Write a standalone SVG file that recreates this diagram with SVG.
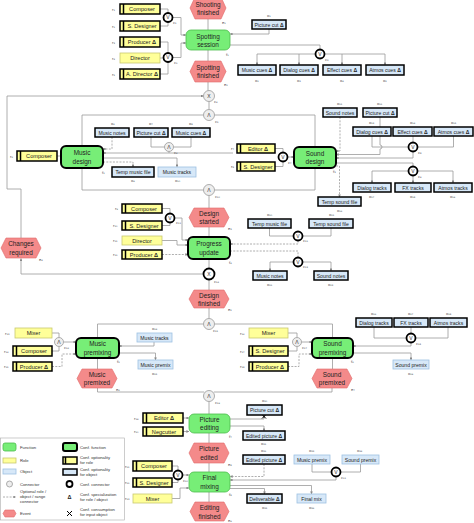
<svg xmlns="http://www.w3.org/2000/svg" width="474" height="523" viewBox="0 0 474 523">
<style>
.fn{fill:#77ee77;stroke:#4cbb4c;stroke-width:0.8}
.cfn{fill:#77ee77;stroke:#000;stroke-width:2}
.ev{fill:#f48a8a;stroke:#e06868;stroke-width:0.6}
.rl{fill:#ffff99;stroke:#c8c870;stroke-width:0.8}
.crl{fill:#ffff99;stroke:#000;stroke-width:1.5}
.bar{stroke:#000;stroke-width:1.5}
.ob{fill:#d7e8f8;stroke:#9dc0e2;stroke-width:0.8}
.cob{fill:#d7e8f8;stroke:#000;stroke-width:1.5}
.cn{fill:#eeeeee;stroke:#999;stroke-width:0.8}
.ccn{fill:#ffffff;stroke:#000;stroke-width:1.8}
.ln{fill:none;stroke:#9a9a9a;stroke-width:0.8}
.dl{fill:none;stroke:#9a9a9a;stroke-width:0.8;stroke-dasharray:2 1.3}
text{font-family:"Liberation Sans",Arial,sans-serif;fill:#222}
.t{font-size:6.4px;text-anchor:middle}
.tr{font-size:5.6px;text-anchor:middle}
.to{font-size:5.1px;text-anchor:middle}
.cs{font-size:5px;text-anchor:middle;fill:#333}
.lb{font-family:"DejaVu Sans",sans-serif;font-size:3.6px;fill:#444}
.le{font-size:4.2px;fill:#333}
.d{font-weight:bold}
</style>
<defs>
<marker id="ar" viewBox="0 0 6 6" refX="5.5" refY="3" markerWidth="3.5" markerHeight="3.5" orient="auto"><path d="M0,0 L6,3 L0,6 z" fill="#888"/></marker>
</defs>

<g id="connectors">
<!-- top -->
<path class="ln" d="M208,19 V30"/>
<path class="ln" d="M208,50 V61"/>
<path class="ln" d="M208,82 V90.5"/>
<path class="ln" d="M160,9 H168 V13"/>
<path class="ln" d="M160,26 H168 V22"/>
<path class="ln" d="M172.5,17.5 H181 V35 H186" marker-end="url(#ar)"/>
<path class="ln" d="M160,42 H168 V53"/>
<path class="ln" d="M160,58 H163.5"/>
<path class="ln" d="M160,74 H168 V62"/>
<path class="ln" d="M172.5,57.5 H181 V43 H186" marker-end="url(#ar)"/>
<path class="ln" d="M269,29 V34 H230" marker-end="url(#ar)"/>
<path class="ln" d="M230,45 H320 V49.5"/>
<path class="ln" d="M315.5,54 H257 V65" marker-end="url(#ar)"/>
<path class="ln" d="M299,54 V65" marker-end="url(#ar)"/>
<path class="ln" d="M324.5,54 H385 V65" marker-end="url(#ar)"/>
<path class="ln" d="M342,54 V65" marker-end="url(#ar)"/>
<!-- loop -->
<path class="ln" d="M21,238 V189 H7 V96 H203.5" marker-end="url(#ar)"/>
<path class="ln" d="M203.5,274 H21 V258.5" marker-end="url(#ar)"/>
<path class="ln" d="M209,101.5 V109.5"/>
<path class="ln" d="M203.5,115 H82 V146"/>
<path class="ln" d="M214.5,115 H315 V147"/>
<path class="ln" d="M82,168 V190 H203.5"/>
<path class="ln" d="M315,168 V190 H214.5"/>
<path class="ln" d="M209,195.5 V208"/>
<!-- music design -->
<path class="ln" d="M57,156 H61"/>
<path class="dl" d="M112,137 V149 H103" marker-end="url(#ar)"/>
<path class="ln" d="M151,137 V147 H164.5"/>
<path class="ln" d="M191,137 V147 H173.5"/>
<path class="ln" d="M169,151.5 V153"/>
<path class="ln" d="M233,153 H103" marker-end="url(#ar)"/>
<path class="ln" d="M103,158 H177 V167" marker-end="url(#ar)"/>
<path class="dl" d="M103,162 H133 V167" marker-end="url(#ar)"/>
<!-- sound design -->
<path class="ln" d="M275,148.5 H283 V152.5"/>
<path class="ln" d="M275,166.5 H283 V161.5"/>
<path class="ln" d="M287.5,157 H294" marker-end="url(#ar)"/>
<path class="dl" d="M340,117 V151 H336" marker-end="url(#ar)"/>
<path class="ln" d="M380,117 V145 A2,2 0 0 1 380,149 V154.5 H336" marker-end="url(#ar)"/>
<path class="ln" d="M372,136 V147 H408.5"/>
<path class="ln" d="M413,136 V142.5"/>
<path class="ln" d="M453.5,136 V147 H417.5"/>
<path class="ln" d="M413,151.5 V158 H336" marker-end="url(#ar)"/>
<path class="ln" d="M336,163 H413 V166.5"/>
<path class="ln" d="M408.5,171 H372 V183" marker-end="url(#ar)"/>
<path class="ln" d="M413,175.5 V183" marker-end="url(#ar)"/>
<path class="ln" d="M417.5,171 H453 V183" marker-end="url(#ar)"/>
<path class="dl" d="M336,166 H339.5 V197" marker-end="url(#ar)"/>
<!-- progress update -->
<path class="ln" d="M209,227 V237"/>
<path class="ln" d="M162,208.5 H170 V213.5"/>
<path class="ln" d="M162,225.5 H170 V222.5"/>
<path class="ln" d="M174.5,218 H182 V240 H188" marker-end="url(#ar)"/>
<path class="ln" d="M162,240.5 H177 V245 H188" marker-end="url(#ar)"/>
<path class="dl" d="M162,254.5 H188" marker-end="url(#ar)"/>
<path class="ln" d="M269.5,228 V236 H293.5"/>
<path class="ln" d="M331,228 V236 H302.5"/>
<path class="dl" d="M298,240.5 V244 H230" marker-end="url(#ar)"/>
<path class="dl" d="M230,251 H298 V257.5"/>
<path class="ln" d="M293.5,262 H270 V271" marker-end="url(#ar)"/>
<path class="ln" d="M302.5,262 H331 V271" marker-end="url(#ar)"/>
<path class="ln" d="M209,259 V268.5"/>
<path class="ln" d="M209,279.5 V290"/>
<!-- premixing -->
<path class="ln" d="M209,308 V318.5"/>
<path class="ln" d="M203.5,324 H97.5 V338"/>
<path class="ln" d="M214.5,324 H332.5 V338"/>
<path class="ln" d="M52,333 H59 V337.5"/>
<path class="ln" d="M52,351 H59 V346.5"/>
<path class="ln" d="M63.5,342 H76" marker-end="url(#ar)"/>
<path class="dl" d="M52,366.5 H62 V354 H76" marker-end="url(#ar)"/>
<path class="ln" d="M154,342 V346 H119" marker-end="url(#ar)"/>
<path class="ln" d="M119,353 H155.5 V360" marker-end="url(#ar)"/>
<path class="ln" d="M97.5,358 V369"/>
<path class="ln" d="M288,333 H297 V337.5"/>
<path class="ln" d="M288,351 H297 V346.5"/>
<path class="ln" d="M301.5,342 H312" marker-end="url(#ar)"/>
<path class="dl" d="M288,366.5 H299 V354 H312" marker-end="url(#ar)"/>
<path class="ln" d="M374,327 V338 H406.5"/>
<path class="ln" d="M411,327 V333.5"/>
<path class="ln" d="M448,327 V338 H415.5"/>
<path class="ln" d="M411,342.5 V346 H353" marker-end="url(#ar)"/>
<path class="ln" d="M353,353 H411 V360" marker-end="url(#ar)"/>
<path class="ln" d="M332.5,358 V369"/>
<path class="ln" d="M97.5,388 V392 H204.2"/>
<path class="ln" d="M332,388 V392 H213.8"/>
<!-- editing -->
<path class="ln" d="M209,401.5 V414"/>
<path class="ln" d="M183,418 H189" marker-end="url(#ar)"/>
<path class="ln" d="M183,431.5 H189" marker-end="url(#ar)"/>
<path class="ln" d="M230,419 H264 V415" marker-end="url(#ar)"/>
<path class="ln" d="M230,426 H264 V431" marker-end="url(#ar)"/>
<path class="ln" d="M209,433 V443"/>
<path class="ln" d="M209,463 V472"/>
<path class="ln" d="M172,466 H178 V471"/>
<path class="ln" d="M172,482.5 H178 V479"/>
<path class="ln" d="M182.5,475 H189" marker-end="url(#ar)"/>
<path class="ln" d="M172,498.5 H180 V488 H189" marker-end="url(#ar)"/>
<path class="dl" d="M264,464 V476.5 H230" marker-end="url(#ar)"/>
<path class="ln" d="M312,464 V472 H331.5"/>
<path class="ln" d="M360.5,464 V472 H340.5"/>
<path class="ln" d="M336,476.5 V480 H230" marker-end="url(#ar)"/>
<path class="ln" d="M230,485.5 H311.5 V494" marker-end="url(#ar)"/>
<path class="ln" d="M230,488.5 H264.5 V494" marker-end="url(#ar)"/>
<path class="ln" d="M209,492 V502"/>
<path d="M262,414.5 L266,418.5 M266,414.5 L262,418.5" stroke="#000" stroke-width="1"/>
</g>

<!-- top section -->
<g id="e1"><polygon class="ev" points="195,-3 221,-3 226,8 221,19 195,19 190,8"/><text class="t" x="208" y="7">Shooting</text><text class="t" x="208" y="15">finished</text><text class="lb" x="222" y="24">e₁</text></g>
<g id="f1"><rect class="fn" x="186" y="30" width="44" height="20" rx="5"/><text class="t" x="208" y="38.5">Spotting</text><text class="t" x="208" y="46.5">session</text><text class="lb" x="226" y="56">f₁</text></g>
<g id="e2"><polygon class="ev" points="195,61 221,61 226,71.5 221,82 195,82 190,71.5"/><text class="t" x="208" y="69.5">Spotting</text><text class="t" x="208" y="78">finished</text><text class="lb" x="224" y="86">e₂</text></g>
<g id="r1"><rect class="crl" x="120" y="4" width="40" height="10"/><line class="bar" x1="123.5" y1="4" x2="123.5" y2="14"/><text class="tr" x="142" y="11">Composer</text><text class="lb" x="112" y="11">r₁</text></g>
<g id="r2"><rect class="crl" x="120" y="21" width="40" height="10"/><line class="bar" x1="123.5" y1="21" x2="123.5" y2="31"/><text class="tr" x="142" y="28">S. Designer</text><text class="lb" x="112" y="28">r₂</text></g>
<g id="r3"><rect class="crl" x="120" y="37" width="40" height="10"/><line class="bar" x1="123.5" y1="37" x2="123.5" y2="47"/><text class="tr" x="142" y="44">Producer <tspan class="d">Δ</tspan></text><text class="lb" x="112" y="44">r₃</text></g>
<g id="r4"><rect class="rl" x="120" y="53" width="40" height="10"/><text class="tr" x="140" y="60">Director</text><text class="lb" x="112" y="60">r₄</text></g>
<g id="r5"><rect class="crl" x="120" y="69" width="40" height="10"/><line class="bar" x1="123.5" y1="69" x2="123.5" y2="79"/><text class="tr" x="142" y="76">A. Director <tspan class="d">Δ</tspan></text><text class="lb" x="112" y="76">r₅</text></g>
<g id="c1"><circle class="ccn" cx="168" cy="17.5" r="4.5"/><text class="cs" x="168" y="19.3">V</text><text class="lb" x="173" y="24">c₁</text></g>
<g id="c2"><circle class="ccn" cx="168" cy="57.5" r="4.5"/><text class="cs" x="168" y="59.3">V</text><text class="lb" x="174" y="64">c₂</text></g>
<g id="o1"><rect class="cob" x="252" y="20" width="34" height="9"/><text class="to" x="269" y="26.5">Picture cut <tspan class="d">Δ</tspan></text><text class="lb" x="267" y="17">o₁</text></g>
<g id="c3"><circle class="ccn" cx="320" cy="54" r="4.5"/><text class="cs" x="320" y="55.8">V</text><text class="lb" x="325" y="61">c₃</text></g>
<g id="o2"><rect class="cob" x="238" y="65" width="38" height="10"/><text class="to" x="257" y="72">Music cues <tspan class="d">Δ</tspan></text><text class="lb" x="255" y="82">o₂</text></g>
<g id="o3"><rect class="cob" x="280" y="65" width="38" height="10"/><text class="to" x="299" y="72">Dialog cues <tspan class="d">Δ</tspan></text><text class="lb" x="297" y="82">o₃</text></g>
<g id="o4"><rect class="cob" x="323" y="65" width="38" height="10"/><text class="to" x="342" y="72">Effect cues <tspan class="d">Δ</tspan></text><text class="lb" x="340" y="82">o₄</text></g>
<g id="o5"><rect class="cob" x="366" y="65" width="38" height="10"/><text class="to" x="385" y="72">Atmos cues <tspan class="d">Δ</tspan></text><text class="lb" x="383" y="82">o₅</text></g>
<g id="c4"><circle class="cn" cx="209" cy="96" r="5.5"/><text class="cs" x="209" y="97.8">X</text><text class="lb" x="214" y="103">c₄</text></g>
<g id="c5"><circle class="cn" cx="209" cy="115" r="5.5"/><text class="cs" x="209" y="117">Λ</text><text class="lb" x="215" y="123">c₅</text></g>

<!-- music design -->
<g id="f2"><rect class="cfn" x="61" y="146" width="42" height="22" rx="5"/><text class="t" x="82" y="155">Music</text><text class="t" x="82" y="163.5">design</text><text class="lb" x="102" y="174">f₂</text></g>
<g id="r6"><rect class="crl" x="17" y="151" width="40" height="10"/><line class="bar" x1="20.5" y1="151" x2="20.5" y2="161"/><text class="tr" x="39" y="158">Composer</text><text class="lb" x="10" y="158">r₆</text></g>
<g id="o6"><rect class="cob" x="95" y="128" width="34" height="9"/><text class="to" x="112" y="134.5">Music notes</text><text class="lb" x="111" y="125">o₆</text></g>
<g id="o7"><rect class="cob" x="134" y="128" width="34" height="9"/><text class="to" x="151" y="134.5">Picture cut <tspan class="d">Δ</tspan></text><text class="lb" x="149" y="125">o₇</text></g>
<g id="o8"><rect class="cob" x="172" y="128" width="38" height="9"/><text class="to" x="191" y="134.5">Music cues <tspan class="d">Δ</tspan></text><text class="lb" x="189" y="125">o₈</text></g>
<g id="c6"><circle class="cn" cx="169" cy="147" r="4.5"/><text class="cs" x="169" y="149">Λ</text><text class="lb" x="174" y="154">c₆</text></g>
<g id="o9"><rect class="cob" x="112" y="167" width="42" height="10"/><text class="to" x="133" y="174">Temp music file</text><text class="lb" x="131" y="182">o₉</text></g>
<g id="o10"><rect class="ob" x="158" y="167" width="38" height="10"/><text class="to" x="177" y="174">Music tracks</text><text class="lb" x="175" y="182">o₁₀</text></g>
<g id="c10"><circle class="cn" cx="209" cy="190" r="5.5"/><text class="cs" x="209" y="192">Λ</text><text class="lb" x="215" y="198">c₁₀</text></g>

<!-- sound design -->
<g id="f3"><rect class="cfn" x="294" y="147" width="42" height="21" rx="5"/><text class="t" x="315" y="155.5">Sound</text><text class="t" x="315" y="164">design</text><text class="lb" x="333" y="173">f₃</text></g>
<g id="r7"><rect class="crl" x="237" y="144" width="38" height="9"/><line class="bar" x1="240.5" y1="144" x2="240.5" y2="153"/><text class="tr" x="258" y="150.5">Editor  <tspan class="d">Δ</tspan></text><text class="lb" x="231" y="150">r₇</text></g>
<g id="r8"><rect class="crl" x="237" y="162" width="38" height="9"/><line class="bar" x1="240.5" y1="162" x2="240.5" y2="171"/><text class="tr" x="258" y="168.5">S. Designer</text><text class="lb" x="231" y="168">r₈</text></g>
<g id="c7"><circle class="ccn" cx="283" cy="157" r="4.5"/><text class="cs" x="283" y="158.8">V</text><text class="lb" x="288" y="164">c₇</text></g>
<g id="o11"><rect class="cob" x="323" y="108" width="34" height="9"/><text class="to" x="340" y="114.5">Sound notes</text><text class="lb" x="337" y="105">o₁₁</text></g>
<g id="o12"><rect class="cob" x="363" y="108" width="34" height="9"/><text class="to" x="380" y="114.5">Picture cut <tspan class="d">Δ</tspan></text><text class="lb" x="377" y="105">o₁₂</text></g>
<g id="o13"><rect class="cob" x="353" y="127" width="38" height="9"/><text class="to" x="372" y="133.5">Dialog cues <tspan class="d">Δ</tspan></text><text class="lb" x="369" y="124">o₁₃</text></g>
<g id="o14"><rect class="cob" x="393" y="127" width="39" height="9"/><text class="to" x="412.5" y="133.5">Effect cues <tspan class="d">Δ</tspan></text><text class="lb" x="410" y="124">o₁₄</text></g>
<g id="o15"><rect class="cob" x="434" y="127" width="39" height="9"/><text class="to" x="453.5" y="133.5">Atmos cues <tspan class="d">Δ</tspan></text><text class="lb" x="451" y="124">o₁₅</text></g>
<g id="c8"><circle class="ccn" cx="413" cy="147" r="4.5"/><text class="cs" x="413" y="148.8">V</text><text class="lb" x="418" y="154">c₈</text></g>
<g id="c9"><circle class="ccn" cx="413" cy="171" r="4.5"/><text class="cs" x="413" y="172.8">V</text><text class="lb" x="418" y="178">c₉</text></g>
<g id="o16"><rect class="cob" x="318" y="197" width="43" height="9"/><text class="to" x="339.5" y="203.5">Temp sound file</text><text class="lb" x="337" y="212">o₁₆</text></g>
<g id="o17"><rect class="cob" x="353" y="183" width="38" height="9"/><text class="to" x="372" y="189.5">Dialog tracks</text><text class="lb" x="369" y="198">o₁₇</text></g>
<g id="o18"><rect class="cob" x="395" y="183" width="36" height="9"/><text class="to" x="413" y="189.5">FX tracks</text><text class="lb" x="410" y="198">o₁₈</text></g>
<g id="o19"><rect class="cob" x="434" y="183" width="38" height="9"/><text class="to" x="453" y="189.5">Atmos tracks</text><text class="lb" x="450" y="198">o₁₉</text></g>

<!-- progress update -->
<g id="e3"><polygon class="ev" points="194,208 224,208 229,217.5 224,227 194,227 189,217.5"/><text class="t" x="209" y="216">Design</text><text class="t" x="209" y="224">started</text><text class="lb" x="228" y="230">e₃</text></g>
<g id="f4"><rect class="cfn" x="188" y="237" width="42" height="22" rx="5"/><text class="t" x="209" y="246">Progress</text><text class="t" x="209" y="254.5">update</text><text class="lb" x="229" y="264">f₄</text></g>
<g id="e4"><polygon class="ev" points="6,238 36,238 41,248 36,258 6,258 1,248"/><text class="t" x="21" y="246">Changes</text><text class="t" x="21" y="254.5">required</text><text class="lb" x="39" y="261">e₄</text></g>
<g id="r9"><rect class="crl" x="122" y="204" width="40" height="9"/><line class="bar" x1="125.5" y1="204" x2="125.5" y2="213"/><text class="tr" x="144" y="210.5">Composer</text><text class="lb" x="115" y="210">r₉</text></g>
<g id="r10"><rect class="crl" x="122" y="221" width="40" height="9"/><line class="bar" x1="125.5" y1="221" x2="125.5" y2="230"/><text class="tr" x="144" y="227.5">S. Designer</text><text class="lb" x="113" y="227">r₁₀</text></g>
<g id="r11"><rect class="rl" x="122" y="236" width="40" height="9"/><text class="tr" x="142" y="242.5">Director</text><text class="lb" x="113" y="242">r₁₁</text></g>
<g id="r12"><rect class="crl" x="122" y="250" width="40" height="9"/><line class="bar" x1="125.5" y1="250" x2="125.5" y2="259"/><text class="tr" x="144" y="256.5">Producer <tspan class="d">Δ</tspan></text><text class="lb" x="113" y="256">r₁₂</text></g>
<g id="c11"><circle class="ccn" cx="170" cy="218" r="4.5"/><text class="cs" x="170" y="219.8">V</text><text class="lb" x="176" y="224">c₁₁</text></g>
<g id="o20"><rect class="cob" x="248" y="219" width="43" height="9"/><text class="to" x="269.5" y="225.5">Temp music file</text><text class="lb" x="267" y="216">o₂₀</text></g>
<g id="o21"><rect class="cob" x="309" y="219" width="44" height="9"/><text class="to" x="331" y="225.5">Temp sound file</text><text class="lb" x="329" y="216">o₂₁</text></g>
<g id="c12"><circle class="ccn" cx="298" cy="236" r="4.5"/><text class="cs" x="298" y="237.8">V</text><text class="lb" x="303" y="242">c₁₂</text></g>
<g id="c13"><circle class="ccn" cx="298" cy="262" r="4.5"/><text class="cs" x="298" y="263.8">V</text><text class="lb" x="303" y="268">c₁₃</text></g>
<g id="o22"><rect class="cob" x="253" y="271" width="34" height="9"/><text class="to" x="270" y="277.5">Music notes</text><text class="lb" x="267" y="286">o₂₂</text></g>
<g id="o23"><rect class="cob" x="314" y="271" width="34" height="9"/><text class="to" x="331" y="277.5">Sound notes</text><text class="lb" x="328" y="286">o₂₃</text></g>
<g id="c14"><circle class="ccn" cx="209" cy="274" r="5.5"/><text class="cs" x="209" y="275.8">X</text><text class="lb" x="214" y="283">c₁₄</text></g>
<g id="e5"><polygon class="ev" points="194,290 224,290 229,299 224,308 194,308 189,299"/><text class="t" x="209" y="297.5">Design</text><text class="t" x="209" y="305.5">finished</text><text class="lb" x="228" y="311">e₅</text></g>
<g id="c15"><circle class="cn" cx="209" cy="324" r="5.5"/><text class="cs" x="209" y="326">Λ</text><text class="lb" x="213" y="332">c₁₅</text></g>

<!-- music premixing -->
<g id="f5"><rect class="cfn" x="76" y="338" width="43" height="20" rx="5"/><text class="t" x="97.5" y="346">Music</text><text class="t" x="97.5" y="354.5">premixing</text><text class="lb" x="117" y="363">f₅</text></g>
<g id="r13"><rect class="rl" x="15" y="328" width="37" height="10"/><text class="tr" x="33.5" y="335">Mixer</text><text class="lb" x="5" y="335">r₁₃</text></g>
<g id="r14"><rect class="crl" x="13" y="346" width="39" height="10"/><line class="bar" x1="16.5" y1="346" x2="16.5" y2="356"/><text class="tr" x="34" y="353">Composer</text><text class="lb" x="4" y="353">r₁₄</text></g>
<g id="r15"><rect class="crl" x="13" y="362" width="39" height="9"/><line class="bar" x1="16.5" y1="362" x2="16.5" y2="371"/><text class="tr" x="34" y="368.5">Producer <tspan class="d">Δ</tspan></text><text class="lb" x="4" y="368">r₁₅</text></g>
<g id="c16"><circle class="cn" cx="59" cy="342" r="4.5"/><text class="cs" x="59" y="344">Λ</text><text class="lb" x="64" y="349">c₁₆</text></g>
<g id="o24"><rect class="ob" x="137" y="333" width="35" height="9"/><text class="to" x="154.5" y="339.5">Music tracks</text><text class="lb" x="152" y="330">o₂₄</text></g>
<g id="o25"><rect class="ob" x="138" y="360" width="35" height="9"/><text class="to" x="155.5" y="366.5">Music premix</text><text class="lb" x="152" y="375">o₂₅</text></g>
<g id="e6"><polygon class="ev" points="82,369 112,369 117,378.5 112,388 82,388 77,378.5"/><text class="t" x="97" y="377">Music</text><text class="t" x="97" y="385">premixed</text><text class="lb" x="116" y="391">e₆</text></g>

<!-- sound premixing -->
<g id="f6"><rect class="cfn" x="312" y="338" width="41" height="20" rx="5"/><text class="t" x="332.5" y="346">Sound</text><text class="t" x="332.5" y="354.5">premixing</text><text class="lb" x="351" y="363">f₆</text></g>
<g id="r16"><rect class="rl" x="249" y="328" width="39" height="10"/><text class="tr" x="268.5" y="335">Mixer</text><text class="lb" x="240" y="335">r₁₆</text></g>
<g id="r17"><rect class="crl" x="249" y="346" width="39" height="10"/><line class="bar" x1="252.5" y1="346" x2="252.5" y2="356"/><text class="tr" x="270" y="353">S. Designer</text><text class="lb" x="240" y="353">r₁₇</text></g>
<g id="r18"><rect class="crl" x="249" y="362" width="39" height="9"/><line class="bar" x1="252.5" y1="362" x2="252.5" y2="371"/><text class="tr" x="270" y="368.5">Producer <tspan class="d">Δ</tspan></text><text class="lb" x="240" y="368">r₁₈</text></g>
<g id="c17"><circle class="cn" cx="297" cy="342" r="4.5"/><text class="cs" x="297" y="344">Λ</text><text class="lb" x="302" y="349">c₁₇</text></g>
<g id="o26"><rect class="cob" x="356" y="318" width="36" height="9"/><text class="to" x="374" y="324.5">Dialog tracks</text><text class="lb" x="371" y="315">o₂₆</text></g>
<g id="o27"><rect class="cob" x="394" y="318" width="34" height="9"/><text class="to" x="411" y="324.5">FX tracks</text><text class="lb" x="408" y="315">o₂₇</text></g>
<g id="o28"><rect class="cob" x="430" y="318" width="37" height="9"/><text class="to" x="448.5" y="324.5">Atmos tracks</text><text class="lb" x="446" y="315">o₂₈</text></g>
<g id="c18"><circle class="ccn" cx="411" cy="338" r="4.5"/><text class="cs" x="411" y="339.8">V</text><text class="lb" x="416" y="345">c₁₈</text></g>
<g id="o29"><rect class="ob" x="393" y="360" width="36" height="9"/><text class="to" x="411" y="366.5">Sound premix</text><text class="lb" x="408" y="375">o₂₉</text></g>
<g id="e7"><polygon class="ev" points="317,369 347,369 352,378.5 347,388 317,388 312,378.5"/><text class="t" x="332" y="377">Sound</text><text class="t" x="332" y="385">premixed</text><text class="lb" x="351" y="391">e₇</text></g>
<g id="c19"><circle class="cn" cx="209" cy="396" r="5.5"/><text class="cs" x="209" y="398">Λ</text><text class="lb" x="215" y="404">c₁₉</text></g>

<!-- picture editing / final mixing -->
<g id="f7"><rect class="fn" x="189" y="414" width="41" height="19" rx="5"/><text class="t" x="209.5" y="422">Picture</text><text class="t" x="209.5" y="430">editing</text><text class="lb" x="229" y="438">f₇</text></g>
<g id="r19"><rect class="crl" x="143" y="413" width="40" height="10"/><line class="bar" x1="146.5" y1="413" x2="146.5" y2="423"/><text class="tr" x="164" y="420">Editor  <tspan class="d">Δ</tspan></text><text class="lb" x="134" y="420">r₁₉</text></g>
<g id="r20"><rect class="crl" x="143" y="427" width="40" height="9"/><line class="bar" x1="146.5" y1="427" x2="146.5" y2="436"/><text class="tr" x="164" y="433.5">Negcutter</text><text class="lb" x="134" y="433">r₂₀</text></g>
<g id="o30"><rect class="cob" x="247" y="405" width="35" height="10"/><text class="to" x="264.5" y="412">Picture cut <tspan class="d">Δ</tspan></text><text class="lb" x="262" y="402">o₃₀</text></g>
<g id="o31"><rect class="cob" x="243" y="431" width="42" height="9"/><text class="to" x="264" y="437.5">Edited picture <tspan class="d">Δ</tspan></text><text class="lb" x="261" y="445">o₃₁</text></g>
<g id="e8"><polygon class="ev" points="194,443 224,443 229,453 224,463 194,463 189,453"/><text class="t" x="209" y="451">Picture</text><text class="t" x="209" y="459.5">edited</text><text class="lb" x="228" y="466">e₈</text></g>
<g id="o32"><rect class="cob" x="243" y="455" width="42" height="9"/><text class="to" x="264" y="461.5">Edited picture <tspan class="d">Δ</tspan></text><text class="lb" x="261" y="452">o₃₂</text></g>
<g id="o33"><rect class="ob" x="294" y="455" width="36" height="9"/><text class="to" x="312" y="461.5">Music premix</text><text class="lb" x="309" y="452">o₃₃</text></g>
<g id="o34"><rect class="ob" x="342" y="455" width="37" height="9"/><text class="to" x="360.5" y="461.5">Sound premix</text><text class="lb" x="357" y="452">o₃₄</text></g>
<g id="c21"><circle class="ccn" cx="336" cy="472" r="4.5"/><text class="cs" x="336" y="473.8">V</text><text class="lb" x="341" y="479">c₂₁</text></g>
<g id="f8"><rect class="fn" x="189" y="472" width="41" height="20" rx="5"/><text class="t" x="209.5" y="480">Final</text><text class="t" x="209.5" y="488.5">mixing</text><text class="lb" x="229" y="496">f₈</text></g>
<g id="r21"><rect class="crl" x="133" y="461" width="39" height="10"/><line class="bar" x1="136.5" y1="461" x2="136.5" y2="471"/><text class="tr" x="154" y="468">Composer</text><text class="lb" x="125" y="468">r₂₁</text></g>
<g id="r22"><rect class="crl" x="133" y="478" width="39" height="9"/><line class="bar" x1="136.5" y1="478" x2="136.5" y2="487"/><text class="tr" x="154" y="484.5">S. Designer</text><text class="lb" x="125" y="484">r₂₂</text></g>
<g id="r23"><rect class="rl" x="133" y="494" width="39" height="9"/><text class="tr" x="152.5" y="500.5">Mixer</text><text class="lb" x="125" y="500">r₂₃</text></g>
<g id="c20"><circle class="ccn" cx="178" cy="475" r="4.5"/><text class="cs" x="178" y="476.8">V</text><text class="lb" x="183" y="482">c₂₀</text></g>
<g id="o35"><rect class="cob" x="247" y="494" width="35" height="9"/><text class="to" x="264.5" y="500.5">Deliverable <tspan class="d">Δ</tspan></text><text class="lb" x="262" y="509">o₃₅</text></g>
<g id="o36"><rect class="ob" x="297" y="494" width="29" height="9"/><text class="to" x="311.5" y="500.5">Final mix</text><text class="lb" x="309" y="509">o₃₆</text></g>
<g id="e9"><polygon class="ev" points="195,502 224,502 229,511.5 224,521 195,521 190,511.5"/><text class="t" x="209.5" y="510">Editing</text><text class="t" x="209.5" y="518.5">finished</text><text class="lb" x="228" y="522">e₉</text></g>

<!-- legend -->
<g id="legend">
<rect x="0.5" y="438" width="124" height="82" fill="#fff" stroke="#aaa" stroke-width="0.6"/>
<rect class="fn" x="3" y="443" width="13" height="8" rx="2"/><text class="le" x="20" y="448.5">Function</text>
<rect class="rl" x="3" y="458" width="13" height="5"/><text class="le" x="20" y="462">Role</text>
<rect class="ob" x="3" y="469" width="13" height="5"/><text class="le" x="20" y="473">Object</text>
<circle class="cn" cx="9.5" cy="484" r="3"/><text class="le" x="20" y="485.5">Connector</text>
<path class="dl" d="M3,497 H16" marker-end="url(#ar)"/><text class="le" x="20" y="493">Optional role /</text><text class="le" x="20" y="498">object / range</text><text class="le" x="20" y="503">connector</text>
<polygon class="ev" points="5,510 14,510 16,513.5 14,517 5,517 3,513.5"/><text class="le" x="20" y="515">Event</text>
<rect class="cfn" x="63" y="443" width="14" height="8" rx="2"/><text class="le" x="80" y="448.5">Conf. function</text>
<rect class="crl" x="63" y="457" width="14" height="7"/><line class="bar" x1="65.5" y1="457" x2="65.5" y2="464"/><text class="le" x="80" y="459">Conf. optionality</text><text class="le" x="80" y="464">for role</text>
<rect class="cob" x="63" y="469" width="14" height="6"/><text class="le" x="80" y="471">Conf. optionality</text><text class="le" x="80" y="476">for object</text>
<circle class="ccn" cx="69.5" cy="484" r="3"/><text class="le" x="80" y="485.5">Conf. connector</text>
<text x="69.5" y="499" style="font-size:5.5px;font-weight:bold;text-anchor:middle">Δ</text><text class="le" x="80" y="496">Conf. specialization</text><text class="le" x="80" y="501">for role / object</text>
<path d="M67,511 L72,516 M72,511 L67,516" stroke="#000" stroke-width="1"/><text class="le" x="80" y="511">Conf. consumption</text><text class="le" x="80" y="516">for input object</text>
</g>
</svg>
